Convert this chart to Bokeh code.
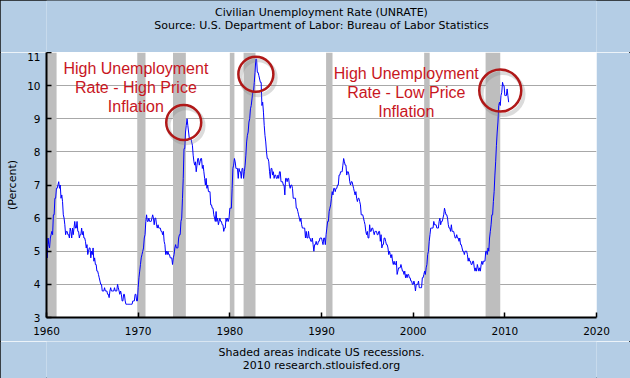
from bokeh.plotting import figure
from bokeh.layouts import column
from bokeh.models import Label, FixedTicker, Range1d
from bokeh.core.properties import value
from bokeh.embed import file_html
from bokeh.resources import INLINE
import pandas as pd

# ---------------- data ----------------
first_month = "1960-01"
unrate = [
    5.2, 4.8, 5.4, 5.2, 5.1, 5.4, 5.5, 5.6, 5.5, 6.1, 6.1, 6.6,   # 1960
    6.6, 6.9, 6.9, 7.0, 7.1, 6.9, 7.0, 6.6, 6.7, 6.5, 6.1, 6.0,   # 1961
    5.8, 5.5, 5.6, 5.6, 5.5, 5.5, 5.4, 5.7, 5.6, 5.4, 5.7, 5.5,   # 1962
    5.7, 5.9, 5.7, 5.7, 5.9, 5.6, 5.6, 5.4, 5.5, 5.5, 5.7, 5.5,   # 1963
    5.6, 5.4, 5.4, 5.3, 5.1, 5.2, 4.9, 5.0, 5.1, 5.1, 4.8, 5.0,   # 1964
    4.9, 5.1, 4.7, 4.8, 4.6, 4.6, 4.4, 4.4, 4.3, 4.2, 4.1, 4.0,   # 1965
    4.0, 3.8, 3.8, 3.8, 3.9, 3.8, 3.8, 3.8, 3.7, 3.7, 3.6, 3.8,   # 1966
    3.9, 3.8, 3.8, 3.8, 3.8, 3.9, 3.8, 3.8, 3.8, 4.0, 3.9, 3.8,   # 1967
    3.7, 3.8, 3.7, 3.5, 3.5, 3.7, 3.7, 3.5, 3.4, 3.4, 3.4, 3.4,   # 1968
    3.4, 3.4, 3.4, 3.4, 3.4, 3.5, 3.5, 3.5, 3.7, 3.7, 3.5, 3.5,   # 1969
    3.9, 4.2, 4.4, 4.6, 4.8, 4.9, 5.0, 5.1, 5.4, 5.5, 5.9, 6.1,   # 1970
    5.9, 5.9, 6.0, 5.9, 5.9, 5.9, 6.0, 6.1, 6.0, 5.8, 6.0, 6.0,   # 1971
    5.8, 5.7, 5.8, 5.7, 5.7, 5.7, 5.6, 5.6, 5.5, 5.6, 5.3, 5.2,   # 1972
    4.9, 5.0, 4.9, 5.0, 4.9, 4.9, 4.8, 4.8, 4.8, 4.6, 4.8, 4.9,   # 1973
    5.1, 5.2, 5.1, 5.1, 5.1, 5.4, 5.5, 5.5, 5.9, 6.0, 6.6, 7.2,   # 1974
    8.1, 8.1, 8.6, 8.8, 9.0, 8.8, 8.6, 8.4, 8.4, 8.4, 8.3, 8.2,   # 1975
    7.9, 7.7, 7.6, 7.7, 7.4, 7.6, 7.8, 7.8, 7.6, 7.7, 7.8, 7.8,   # 1976
    7.5, 7.6, 7.4, 7.2, 7.0, 7.2, 6.9, 7.0, 6.8, 6.8, 6.8, 6.4,   # 1977
    6.4, 6.3, 6.3, 6.1, 6.0, 5.9, 6.2, 5.9, 6.0, 5.8, 5.9, 6.0,   # 1978
    5.9, 5.9, 5.8, 5.8, 5.6, 5.7, 5.7, 6.0, 5.9, 6.0, 5.9, 6.0,   # 1979
    6.3, 6.3, 6.3, 6.9, 7.5, 7.6, 7.8, 7.7, 7.5, 7.5, 7.5, 7.2,   # 1980
    7.5, 7.4, 7.4, 7.2, 7.5, 7.5, 7.2, 7.4, 7.6, 7.9, 8.3, 8.5,   # 1981
    8.6, 8.9, 9.0, 9.3, 9.4, 9.6, 9.8, 9.8, 10.1, 10.4, 10.8, 10.8,  # 1982
    10.4, 10.4, 10.3, 10.2, 10.1, 10.1, 9.4, 9.5, 9.2, 8.8, 8.5, 8.3,  # 1983
    8.0, 7.8, 7.8, 7.7, 7.4, 7.2, 7.5, 7.5, 7.3, 7.4, 7.2, 7.3,   # 1984
    7.3, 7.2, 7.2, 7.3, 7.2, 7.4, 7.4, 7.1, 7.1, 7.1, 7.0, 7.0,   # 1985
    6.7, 7.2, 7.2, 7.1, 7.2, 7.2, 7.0, 6.9, 7.0, 7.0, 6.9, 6.6,   # 1986
    6.6, 6.6, 6.6, 6.3, 6.3, 6.2, 6.1, 6.0, 5.9, 6.0, 5.8, 5.7,   # 1987
    5.7, 5.7, 5.7, 5.4, 5.6, 5.4, 5.4, 5.6, 5.4, 5.4, 5.3, 5.3,   # 1988
    5.4, 5.2, 5.0, 5.2, 5.2, 5.3, 5.2, 5.2, 5.3, 5.3, 5.4, 5.4,   # 1989
    5.4, 5.3, 5.2, 5.4, 5.4, 5.2, 5.5, 5.7, 5.9, 5.9, 6.2, 6.3,   # 1990
    6.4, 6.6, 6.8, 6.7, 6.9, 6.9, 6.8, 6.9, 6.9, 7.0, 7.0, 7.3,   # 1991
    7.3, 7.4, 7.4, 7.4, 7.6, 7.8, 7.7, 7.6, 7.6, 7.3, 7.4, 7.4,   # 1992
    7.3, 7.1, 7.0, 7.1, 7.1, 7.0, 6.9, 6.8, 6.7, 6.8, 6.6, 6.5,   # 1993
    6.6, 6.6, 6.5, 6.4, 6.1, 6.1, 6.1, 6.0, 5.9, 5.8, 5.6, 5.5,   # 1994
    5.6, 5.4, 5.4, 5.8, 5.6, 5.6, 5.7, 5.7, 5.6, 5.5, 5.6, 5.6,   # 1995
    5.6, 5.5, 5.5, 5.6, 5.6, 5.3, 5.5, 5.1, 5.2, 5.2, 5.4, 5.4,   # 1996
    5.3, 5.2, 5.2, 5.1, 4.9, 5.0, 4.9, 4.8, 4.9, 4.7, 4.6, 4.7,   # 1997
    4.6, 4.6, 4.7, 4.3, 4.4, 4.5, 4.5, 4.5, 4.6, 4.5, 4.4, 4.4,   # 1998
    4.3, 4.4, 4.2, 4.3, 4.2, 4.3, 4.3, 4.2, 4.2, 4.1, 4.1, 4.0,   # 1999
    4.0, 4.1, 4.0, 3.8, 4.0, 4.0, 4.0, 4.1, 3.9, 3.9, 3.9, 3.9,   # 2000
    4.2, 4.2, 4.3, 4.4, 4.3, 4.5, 4.6, 4.9, 5.0, 5.3, 5.5, 5.7,   # 2001
    5.7, 5.7, 5.7, 5.9, 5.8, 5.8, 5.8, 5.7, 5.7, 5.7, 5.9, 6.0,   # 2002
    5.8, 5.9, 5.9, 6.0, 6.1, 6.3, 6.2, 6.1, 6.1, 6.0, 5.8, 5.7,   # 2003
    5.7, 5.6, 5.8, 5.6, 5.6, 5.6, 5.5, 5.4, 5.4, 5.5, 5.4, 5.4,   # 2004
    5.3, 5.4, 5.2, 5.2, 5.1, 5.0, 5.0, 4.9, 5.0, 5.0, 5.0, 4.9,   # 2005
    4.7, 4.8, 4.7, 4.7, 4.6, 4.6, 4.7, 4.7, 4.5, 4.4, 4.5, 4.4,   # 2006
    4.6, 4.5, 4.4, 4.5, 4.4, 4.6, 4.7, 4.6, 4.7, 4.7, 4.7, 5.0,   # 2007
    5.0, 4.9, 5.1, 5.0, 5.4, 5.6, 5.8, 6.1, 6.1, 6.5, 6.8, 7.3,   # 2008
    7.7, 8.2, 8.6, 8.9, 9.4, 9.5, 9.4, 9.7, 9.8, 10.1, 10.0, 10.0,  # 2009
    9.7, 9.7, 9.7, 9.9, 9.7, 9.5,                                  # 2010
]

recession_start = [1960.0, 1969.9, 1973.8, 1980.0, 1981.5, 1990.5, 2001.2, 2007.9]
recession_end   = [1961.1, 1970.8, 1975.2, 1980.5, 1982.8, 1991.2, 2001.8, 2009.5]

x_ticks = [1960, 1970, 1980, 1990, 2000, 2010, 2020]
y_ticks = [3, 4, 5, 6, 7, 8, 9, 10, 11]

title_lines = ["Civilian Unemployment Rate (UNRATE)",
               "Source: U.S. Department of Labor: Bureau of Labor Statistics"]
footer_lines = ["Shaded areas indicate US recessions.",
                "2010 research.stlouisfed.org"]
y_label = "(Percent)"

note_left = ["High Unemployment", "Rate - High Price", "Inflation"]
note_right = ["High Unemployment", "Rate - Low Price", "Inflation"]

# annotation placement (data coordinates)
note_left_pos = (1969.75, [10.52, 9.94, 9.38])
note_right_pos = (1999.25, [10.37, 9.79, 9.22])
circle_x = [1974.97, 1982.84, 2009.5]
circle_y = [8.89, 10.34, 9.85]
circle_size = [35, 35, 42]

# --------------- derived x (dates -> decimal years) --------------
dates = pd.date_range(first_month, periods=len(unrate), freq="MS")
xdec = [d.year + (d.month - 1) / 12 for d in dates]

BG = "#b4cde5"
RED = "#c8161e"
FONT = "DejaVu Sans"
W = 630
HEAD_H, MAIN_H, FOOT_H = 52, 289, 37


def text_strip(height, lines, ys):
    """A blue strip (no axes) that holds centred lines of text; y measured downward in px."""
    f = figure(width=W, height=height, x_range=Range1d(0, W), y_range=Range1d(height, 0),
               output_backend="svg", toolbar_location=None, title=None,
               x_axis_type=None, y_axis_type=None, min_border=0)
    f.background_fill_color = BG
    f.border_fill_color = BG
    f.outline_line_color = None
    f.xgrid.visible = False
    f.ygrid.visible = False
    f.text(x=[W / 2] * len(lines), y=ys, text=lines, text_align="center",
           text_baseline="middle", text_font=value(FONT), text_font_size="11px",
           text_color="black")
    return f


head = text_strip(HEAD_H, title_lines, [12, 25])
foot = text_strip(FOOT_H, footer_lines, [11, 23.5])

p = figure(width=W, height=MAIN_H, x_range=Range1d(1960, 2020), y_range=Range1d(3, 11),
           output_backend="svg", toolbar_location=None, title=None,
           min_border_left=46, min_border_right=34, min_border_top=0, min_border_bottom=24)
p.background_fill_color = "white"
p.border_fill_color = BG
p.outline_line_color = None

# recessions
p.quad(left=recession_start, right=recession_end, bottom=3, top=11,
       fill_color="#bebebe", line_color=None)

# series
p.line(xdec, unrate, line_color="#0000ff", line_width=1)

# circles with soft shadow
sh_x = [v + 0.25 for v in circle_x]
sh_y = [v - 0.1 for v in circle_y]
p.scatter(sh_x, sh_y, size=circle_size, marker="circle", fill_color=None,
          line_color="#888888", line_alpha=0.3, line_width=4)
p.scatter(circle_x, circle_y, size=circle_size, marker="circle", fill_color=None,
          line_color="#b01818", line_width=2.5)

for (nx, nys), lines in ((note_left_pos, note_left), (note_right_pos, note_right)):
    for ny, t in zip(nys, lines):
        p.add_layout(Label(x=nx, y=ny, text=t, text_align="center", text_baseline="middle",
                           text_font="Liberation Sans", text_font_size="16px", text_color=RED))

# axes
p.xaxis.ticker = FixedTicker(ticks=x_ticks)
p.yaxis.ticker = FixedTicker(ticks=y_ticks)
for ax in (p.xaxis[0], p.yaxis[0]):
    ax.axis_line_color = "black"
    ax.axis_line_width = 2
    ax.major_tick_line_color = "black"
    ax.major_tick_line_width = 1.5
    ax.major_tick_in = 5
    ax.major_tick_out = 0
    ax.minor_tick_line_color = None
    ax.major_label_text_font = FONT
    ax.major_label_text_font_size = "10.5px"
    ax.major_label_text_color = "black"
p.xaxis.major_label_standoff = 9
p.yaxis.major_label_standoff = 6
p.yaxis.axis_label = y_label
p.yaxis.axis_label_text_font = FONT
p.yaxis.axis_label_text_font_size = "11px"
p.yaxis.axis_label_text_font_style = "normal"
p.yaxis.axis_label_text_color = "black"
p.yaxis.axis_label_standoff = 5

p.xgrid.grid_line_color = None
p.ygrid.grid_line_color = "#a8a8a8"
p.ygrid.grid_line_width = 1

page = column(head, p, foot, spacing=0)
page.styles = {"outline": "1px solid #111", "outline-offset": "-1px"}

open("out.html", "w").write(file_html(page, INLINE))
